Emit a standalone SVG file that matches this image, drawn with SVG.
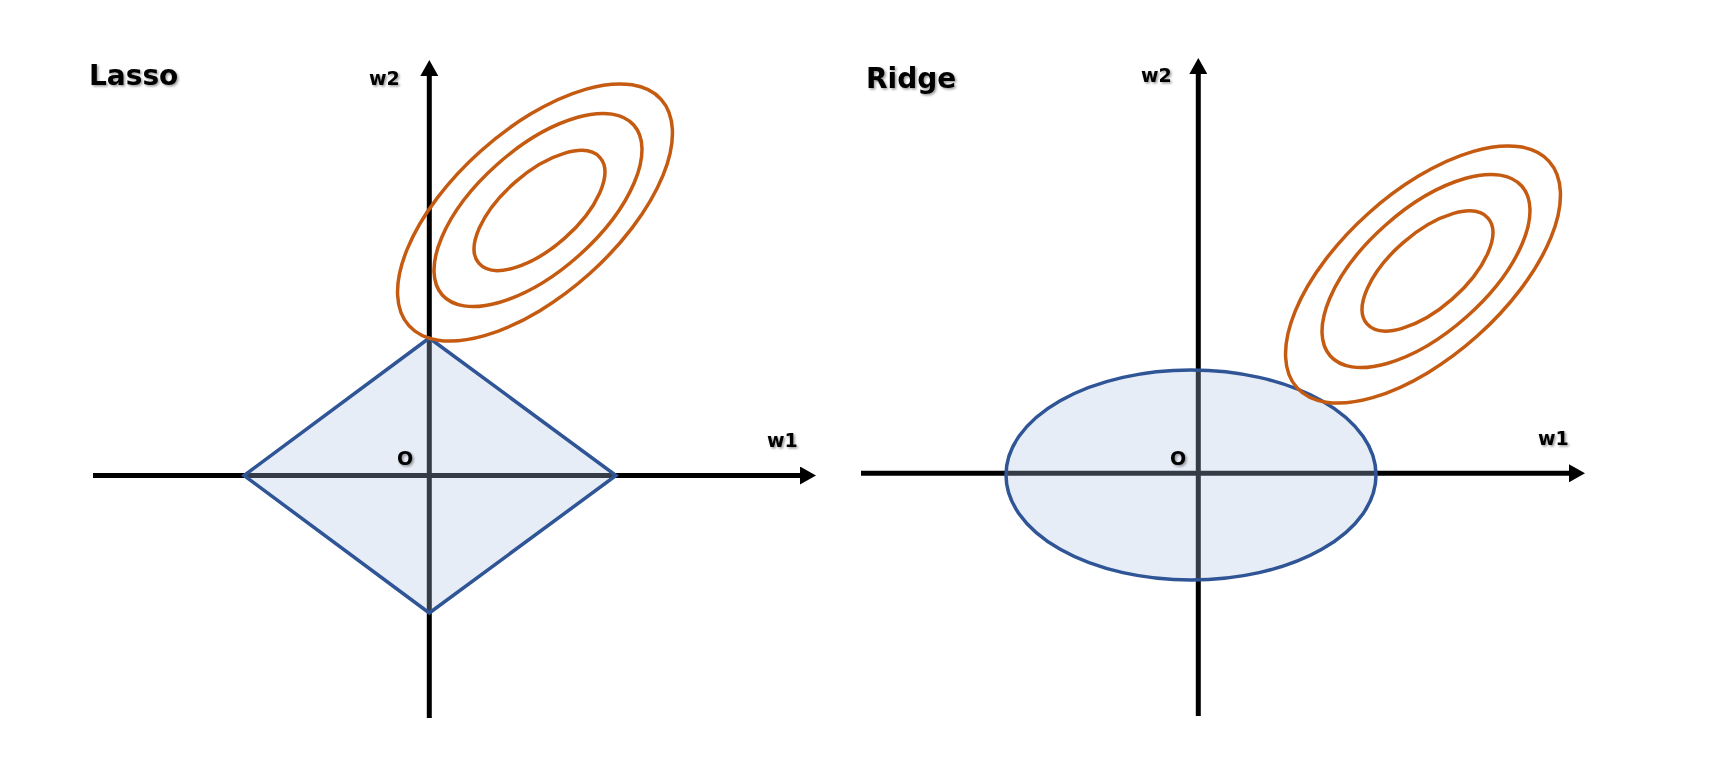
<svg xmlns="http://www.w3.org/2000/svg" width="1729" height="783" viewBox="0 0 1729 783">
<defs>
  <marker id="arrow" markerUnits="userSpaceOnUse" viewBox="0 0 16 18" refX="1" refY="9" markerWidth="16" markerHeight="18" orient="auto">
    <path d="M0,0 L16,9 L0,18 z" fill="#000"/>
  </marker>
  <filter id="shadow" x="-20%" y="-30%" width="140%" height="170%">
    <feDropShadow dx="1.5" dy="1.5" stdDeviation="1.3" flood-color="#000" flood-opacity="0.4"/>
  </filter>
</defs>
<style>
  .axis { stroke: #000; stroke-width: 5; fill: none; }
  .inner { stroke: #343C48; stroke-width: 5; fill: none; }
  .region { fill: #E6EDF7; stroke: none; }
  .outline { fill: none; stroke: #2F5597; stroke-width: 3.5; stroke-linejoin: miter; }
  .contour { fill: none; stroke: #C55A11; stroke-width: 3.5; }
  .title { font-family: "DejaVu Sans", Verdana, sans-serif; font-weight: bold; font-size: 28px; fill: #000; filter: url(#shadow); }
  .lbl { font-family: "DejaVu Sans", Verdana, sans-serif; font-weight: bold; font-size: 19px; fill: #000; filter: url(#shadow); }
</style>
<rect width="1729" height="783" fill="#fff"/>

<g id="connectors">
  <line class="axis" x1="93" y1="475.5" x2="801" y2="475.5" marker-end="url(#arrow)"/>
  <line class="axis" x1="429.3" y1="718" x2="429.3" y2="75" marker-end="url(#arrow)"/>
  <line class="axis" x1="861" y1="473.3" x2="1570" y2="473.3" marker-end="url(#arrow)"/>
  <line class="axis" x1="1198.3" y1="716" x2="1198.3" y2="73" marker-end="url(#arrow)"/>
</g>

<g id="lasso-region">
  <polygon class="region" points="429.3,338 616,475.5 429.3,613 244,475.5"/>
  <line class="inner" x1="244" y1="475.5" x2="616" y2="475.5"/>
  <line class="inner" x1="429.3" y1="338" x2="429.3" y2="613"/>
  <polygon class="outline" points="429.3,338 616,475.5 429.3,613 244,475.5"/>
</g>

<g id="ridge-region">
  <ellipse class="region" cx="1191" cy="475" rx="185" ry="105"/>
  <line class="inner" x1="1006" y1="473.3" x2="1376" y2="473.3"/>
  <line class="inner" x1="1198.3" y1="370" x2="1198.3" y2="580"/>
  <ellipse class="outline" cx="1191" cy="475" rx="185" ry="105"/>
</g>

<g id="lasso-contours">
  <ellipse class="contour" cx="0" cy="0" rx="169.4" ry="82" transform="translate(535 212.5) rotate(-41.9)"/>
  <ellipse class="contour" cx="0" cy="0" rx="128" ry="61.2" transform="translate(538 210) rotate(-41.6)"/>
  <ellipse class="contour" cx="0" cy="0" rx="80.4" ry="37.4" transform="translate(539.5 210.5) rotate(-41.2)"/>
</g>

<g id="ridge-contours" transform="translate(888 61)">
  <ellipse class="contour" cx="0" cy="0" rx="169.4" ry="82" transform="translate(535 213.5) rotate(-41.9)"/>
  <ellipse class="contour" cx="0" cy="0" rx="128" ry="61.2" transform="translate(538 210) rotate(-41.6)"/>
  <ellipse class="contour" cx="0" cy="0" rx="80.4" ry="37.4" transform="translate(539.5 210) rotate(-41.2)"/>
</g>

<g id="labels">
  <text class="title" x="89" y="84.5">Lasso</text>
  <text class="title" x="866" y="88">Ridge</text>
  <text class="lbl" x="369" y="84.5">w2</text>
  <text class="lbl" x="767" y="446.5">w1</text>
  <text class="lbl" x="397" y="465">O</text>
  <text class="lbl" x="1141" y="82">w2</text>
  <text class="lbl" x="1538" y="445">w1</text>
  <text class="lbl" x="1170" y="465">O</text>
</g>
</svg>
